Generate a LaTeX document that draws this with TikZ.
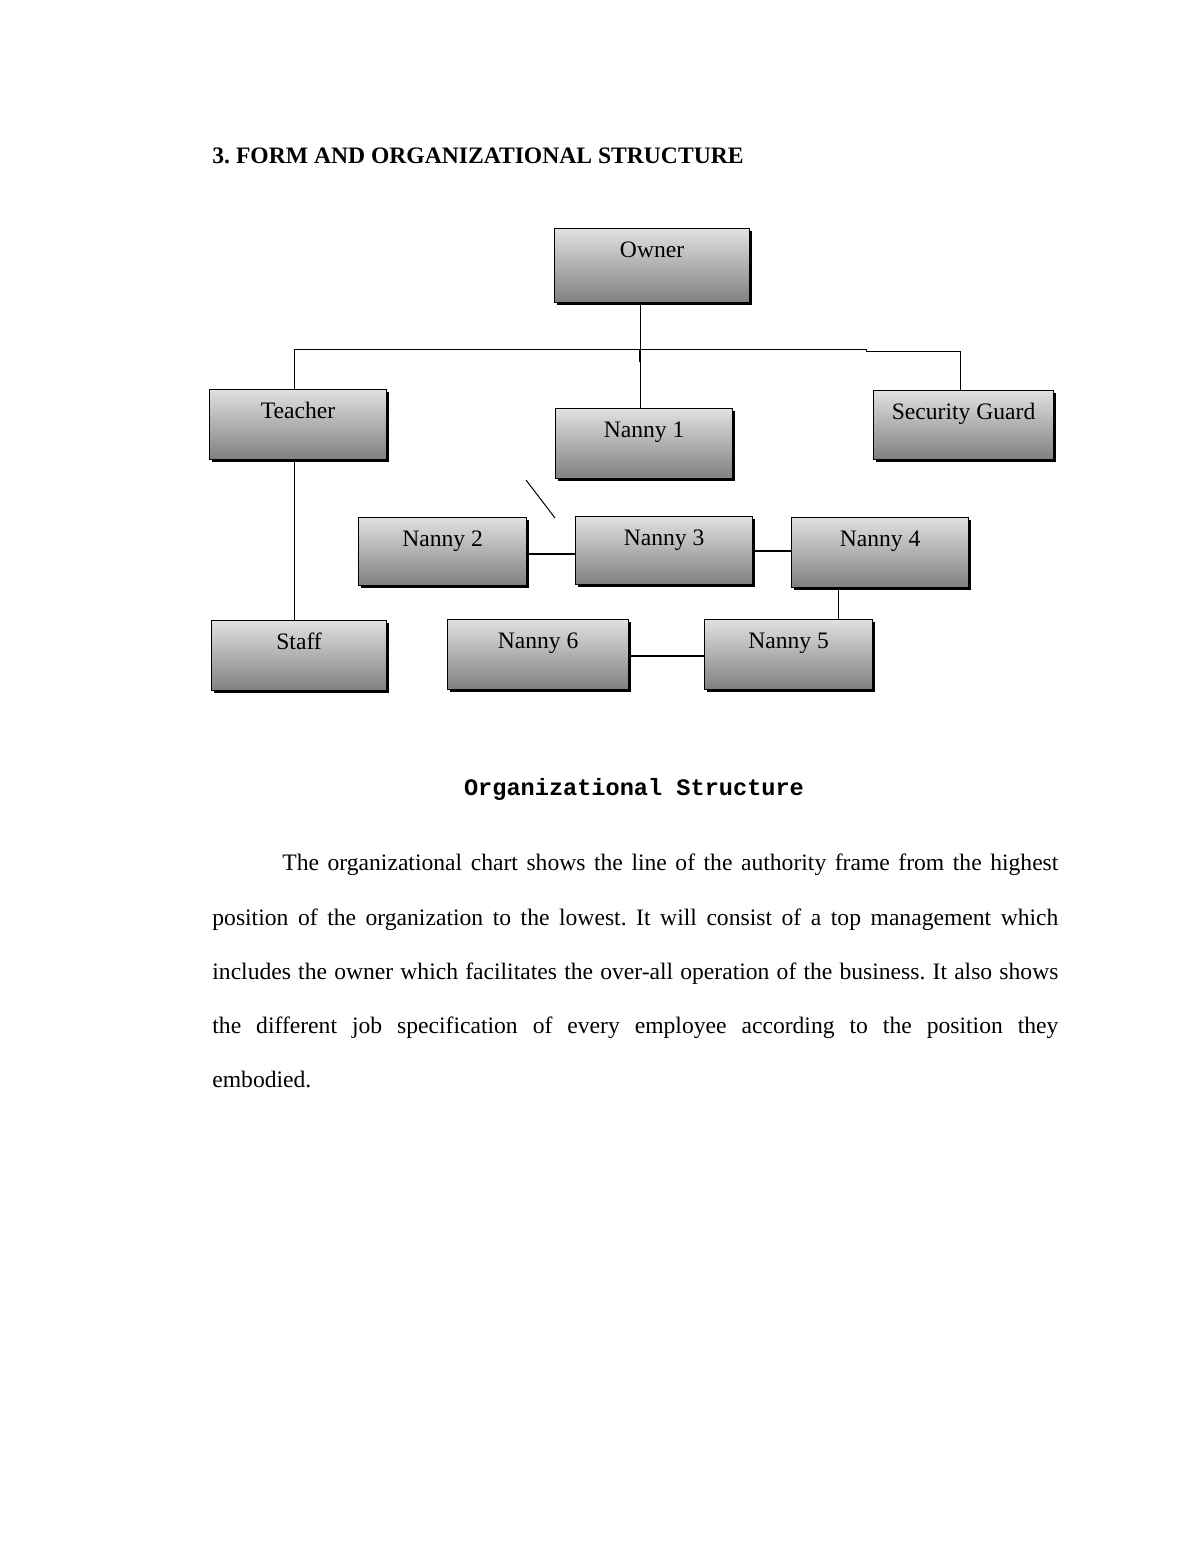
\documentclass[tikz,border=0pt]{standalone}
\usepackage{fontspec}
\setmainfont{Liberation Serif}
\setmonofont{Liberation Mono}
\usetikzlibrary{shadows,positioning}
\frenchspacing

\begin{document}
\begin{tikzpicture}[x=0.5pt,y=-0.5pt,
      orgbox/.style={
         anchor=north west,
         draw=black,
         line width=0.6pt,
         top color=black!12,
         bottom color=black!50,
         drop shadow={shadow xshift=1.3pt,shadow yshift=-1.3pt,fill=black,opacity=1},
         inner xsep=0pt,
         inner ysep=0pt,
         text height=14.5pt,
         text depth=20.5pt,
         font=\fontsize{11.8}{14}\selectfont},
       thin_line/.style={
        line width=0.5pt,
        },
       thick_line/.style={
        line width=1.1pt,
        },
       body_line/.style={
        anchor=base west,
        inner sep=0pt,
        font=\fontsize{11.8}{14}\selectfont,
        }
]
      \useasboundingbox (0,0) rectangle (1200,1553);

      %heading
      \node[body_line,font=\bfseries\fontsize{11.8}{14}\selectfont] (heading) at (212,163) {3. FORM AND ORGANIZATIONAL STRUCTURE};

      %boxes
      \node[orgbox,minimum width=97.5pt,text depth=22.5pt] (owner) at (554,228) {Owner};
      \node[orgbox,minimum width=88.5pt] (teacher) at (209,389) {Teacher};
      \node[orgbox,minimum width=88.5pt] (nanny1) at (555,408) {Nanny 1};
      \node[orgbox,minimum width=90pt,text depth=20pt] (guard) at (873,390) {Security Guard};
      \node[orgbox,minimum width=84pt,text depth=19.5pt] (nanny2) at (358,517) {Nanny 2};
      \node[orgbox,minimum width=88.5pt,text depth=19.5pt] (nanny3) at (575,516) {Nanny 3};
      \node[orgbox,minimum width=88.5pt] (nanny4) at (791,517) {Nanny 4};
      \node[orgbox,minimum width=87.5pt] (staff) at (211,620) {Staff};
      \node[orgbox,minimum width=90.5pt] (nanny6) at (447,619) {Nanny 6};
      \node[orgbox,minimum width=84pt] (nanny5) at (704,619) {Nanny 5};

      %junctions
      \coordinate (bus) at (640,349);
      \coordinate (busL) at (294,349);
      \coordinate (busR) at (866,349);
      \coordinate (busSG) at (960,351);
      \coordinate (strayA) at (526,480);
      \coordinate (strayB) at (555,518);
      \coordinate (n23) at (0,554);
      \coordinate (n34) at (0,551);
      \coordinate (n45) at (838,0);
      \coordinate (n65) at (0,656);

      %connectors
      \draw[thin_line] (owner.south -| bus) -- (bus |- nanny1.north);
      \draw[line width=1.2pt] (bus) -- ++(0,13);
      \draw[thin_line] (teacher.north -| busL) -- (busL) -- (busR) -- (busR |- busSG) -- (busSG) -- (busSG |- guard.north);
      \draw[thin_line] (teacher.south -| busL) -- (staff.north -| busL);
      \draw[thin_line] (strayA) -- (strayB);
      \draw[thick_line] (nanny2.east |- n23) -- (nanny3.west |- n23);
      \draw[thick_line] (nanny3.east |- n34) -- (nanny4.west |- n34);
      \draw[thin_line] (nanny4.south -| n45) -- (nanny5.north -| n45);
      \draw[thick_line] (nanny6.east |- n65) -- (nanny5.west |- n65);

      %caption and text
      \node[body_line,anchor=base,font=\ttfamily\bfseries\fontsize{11.8}{14}\selectfont] (caption) at (634,795) {Organizational Structure};
      \node[body_line] (line1) at (282,870) {\makebox[388pt][s]{The organizational chart shows the line of the authority frame from the highest}};
      \node[body_line] (line2) at (212,925) {\makebox[423pt][s]{position of the organization to the lowest. It will consist of a top management which}};
      \node[body_line] (line3) at (212,979) {\makebox[423pt][s]{includes the owner which facilitates the over-all operation of the business. It also shows}};
      \node[body_line] (line4) at (212,1033) {\makebox[423pt][s]{the different job specification of every employee according to the position they}};
      \node[body_line] (line5) at (212,1087) {embodied.};
\end{tikzpicture}
\end{document}
